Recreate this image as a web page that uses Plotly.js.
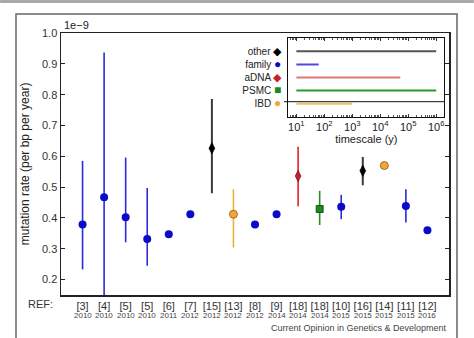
<!DOCTYPE html>
<html>
<head>
<meta charset="utf-8">
<script src="https://cdn.plot.ly/plotly-3.0.1.min.js"></script>
<style>html,body{margin:0;padding:0;background:#fff;}#chart{width:474px;height:338px;}</style>
</head>
<body>
<div id="chart"></div>
<script>
// ---- data (mutation rate in units of 1e-9 per bp per year) ----
const refs    = ['[3]','[4]','[5]','[5]','[6]','[7]','[15]','[13]','[8]','[9]','[18]','[18]','[10]','[16]','[14]','[11]','[12]'];
const years   = ['2010','2010','2010','2010','2011','2012','2012','2012','2012','2014','2014','2014','2015','2015','2015','2015','2016'];
const methods = ['family','family','family','family','family','family','other','IBD','family','family','aDNA','PSMC','family','other','IBD','family','family'];
const rate    = [0.379,0.467,0.402,0.332,0.347,0.412,0.626,0.412,0.379,0.412,0.536,0.429,0.436,0.553,0.570,0.439,0.360];
const upper   = [0.585,0.937,0.596,0.497,null,null,0.786,0.493,null,null,0.631,0.488,0.475,0.598,null,0.493,null];
const lower   = [0.233,0.000,0.321,0.245,null,null,0.480,0.304,null,null,0.438,0.377,0.396,0.506,null,0.385,null];

// inset: timescale covered by each method (years)
const insetMethods = ['other','family','aDNA','PSMC','IBD'];
const insetGlyphs  = ['◆','●','◆','■','●'];
const tsMin = [10,10,10,10,10];
const tsMax = [1e6,63,5.2e4,1e6,1e3];

const yTicks = [0.2,0.3,0.4,0.5,0.6,0.7,0.8,0.9,1.0];
const insetTickVals = [1e1,1e2,1e3,1e4,1e5,1e6];
const insetTickText = ['10<sup>1</sup>','10<sup>2</sup>','10<sup>3</sup>','10<sup>4</sup>','10<sup>5</sup>','10<sup>6</sup>'];

// ---- styles ----
const style = {
  family: {symbol:'circle', color:'#0a0ac8', line:'#0a0ac8', size:8, err:'#2a2ad8', errW:1.6, inset:'#4a4ae0', gsize:12},
  other:  {symbol:'diamond-tall', color:'#000000', line:'#000000', size:8, err:'#3a3a3a', errW:2, inset:'#555555', gsize:11},
  aDNA:   {symbol:'diamond-tall', color:'#c81e28', line:'#8a1010', size:8, err:'#e0202a', errW:1.6, inset:'#e07878', gsize:11},
  PSMC:   {symbol:'square', color:'#1e8a1e', line:'#0a3a0a', size:7, err:'#2a8a2a', errW:1.6, inset:'#2a9a2a', gsize:12},
  IBD:    {symbol:'circle', color:'#f0a830', line:'#8a5a10', size:8, err:'#f0b040', errW:1.6, inset:'#f0c060', gsize:12}
};

const xIdx = refs.map((r,i)=>i+1);
const traces = [];
['family','other','IBD','aDNA','PSMC'].forEach(m=>{
  const xs=[],ys=[],ep=[],em=[];
  methods.forEach((mm,i)=>{
    if(mm!==m) return;
    xs.push(xIdx[i]); ys.push(rate[i]);
    ep.push(upper[i]==null?0:upper[i]-rate[i]);
    em.push(lower[i]==null?0:rate[i]-lower[i]);
  });
  const s=style[m];
  traces.push({
    type:'scatter', mode:'markers', x:xs, y:ys, xaxis:'x', yaxis:'y', showlegend:false, hoverinfo:'skip',
    marker:{symbol:s.symbol, size:s.size, color:s.color, line:{color:s.line, width:(m==='family'?0:0.8)}},
    error_y:{type:'data', symmetric:false, array:ep, arrayminus:em, width:0, thickness:s.errW, color:s.err}
  });
});

// inset lines
insetMethods.forEach((m,k)=>{
  const yv = insetMethods.length-1-k;
  traces.push({type:'scatter', mode:'lines', x:[tsMin[k],tsMax[k]], y:[yv,yv], xaxis:'x2', yaxis:'y2',
    showlegend:false, hoverinfo:'skip', line:{color:style[m].inset, width:2}});
});

const insetLabels = insetMethods.map((m,k)=>m+' <span style="color:'+style[m].color+';font-size:'+style[m].gsize+'px">'+insetGlyphs[k]+'</span>');

const F = 'Liberation Sans, Arial, sans-serif';
const annotations = [
  {text:'1e−9', xref:'paper', yref:'paper', x:0.002, y:1.0, xanchor:'left', yanchor:'bottom', showarrow:false, font:{family:F, size:11, color:'#222'}},
  {text:'REF:', xref:'paper', yref:'paper', x:-0.016, y:-0.033, xanchor:'right', yanchor:'middle', showarrow:false, font:{family:F, size:11, color:'#333'}},
  {text:'Current Opinion in Genetics & Development', xref:'paper', yref:'paper', x:1.0, y:-0.125, xanchor:'right', yanchor:'middle', showarrow:false, font:{family:F, size:9, color:'#444'}}
];
years.forEach((yr,i)=>{
  annotations.push({text:yr, xref:'x', yref:'paper', x:xIdx[i], y:-0.077, xanchor:'center', yanchor:'middle', showarrow:false, font:{family:F, size:8, color:'#444'}});
});

const shapes = [
  {type:'rect', xref:'paper', yref:'paper', x0:-0.157, x1:1.064, y0:1.1145, y1:1.13, fillcolor:'#a8a8a8', line:{width:0}},
  {type:'rect', xref:'paper', yref:'paper', x0:-0.116, x1:1.0206, y0:-0.25, y1:1.0725, fillcolor:'rgba(0,0,0,0)', line:{color:'#666', width:1.5}},
  {type:'line', xref:'paper', yref:'paper', x0:0.5747, x1:0.9879, y0:0.7378, y1:0.7378, line:{color:'#111', width:1}}
];

const layout = {
  width:474, height:338, margin:{l:61, r:25, t:33, b:43},
  paper_bgcolor:'#fff', plot_bgcolor:'#fff', showlegend:false,
  font:{family:F, color:'#222'},
  xaxis:{range:[0,18], tickvals:xIdx, ticktext:refs, showgrid:false, zeroline:false, showline:true, mirror:true,
    linecolor:'#222', linewidth:1.5, ticks:'', tickfont:{family:F, size:11, color:'#333'}},
  yaxis:{range:[0.15,1.0], tickvals:yTicks, tickformat:'.1f', showgrid:false, zeroline:false, showline:true, mirror:'ticks',
    linecolor:'#222', linewidth:1.5, ticks:'inside', ticklen:4, tickcolor:'#222', tickfont:{family:F, size:11, color:'#333'},
    title:{text:'mutation rate (per bp per year)', font:{family:F, size:12, color:'#222'}, standoff:10}},
  xaxis2:{type:'log', domain:[0.5858,0.9879], anchor:'y2', range:[0.712,6.29], tickvals:insetTickVals, ticktext:insetTickText,
    showgrid:false, zeroline:false, showline:true, mirror:'allticks', linecolor:'#111', linewidth:1,
    ticks:'inside', ticklen:3, tickcolor:'#333',
    minor:{ticks:'inside', ticklen:2, tickcolor:'#555', dtick:'D1'},
    tickfont:{family:F, size:11, color:'#222'},
    title:{text:'timescale (y)', font:{family:F, size:11, color:'#222'}, standoff:2}},
  yaxis2:{domain:[0.6805,0.9798], anchor:'x2', range:[-1,5], tickvals:[4,3,2,1,0], ticktext:insetLabels,
    showgrid:false, zeroline:false, showline:true, mirror:true, linecolor:'#111', linewidth:1, ticks:'',
    ticklabelstandoff:4, tickfont:{family:F, size:10, color:'#222'}},
  annotations:annotations, shapes:shapes
};

Plotly.newPlot('chart', traces, layout, {staticPlot:true, displayModeBar:false});
</script>
</body>
</html>
